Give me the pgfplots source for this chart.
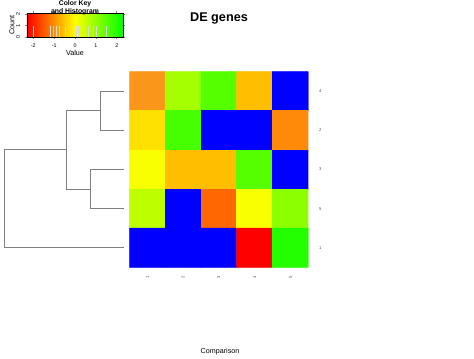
\documentclass[border=0pt]{standalone}
\usepackage{fontspec}
\setmainfont{Liberation Sans}
\usepackage{pgfplots}
\pgfplotsset{compat=1.18}
\pgfplotsset{
  colormap={hm}{
    rgb255=(0,0,255)      % 0 blue
    rgb255=(255,0,0)      % 1 red
    rgb255=(255,104,0)    % 2 orange-red
    rgb255=(255,138,10)   % 3 orange
    rgb255=(250,150,25)   % 4 orange
    rgb255=(255,190,0)    % 5 gold
    rgb255=(255,225,0)    % 6 yellow-gold
    rgb255=(250,255,0)    % 7 yellow
    rgb255=(190,255,0)    % 8 yellow-green
    rgb255=(165,255,0)    % 9 yellow-green
    rgb255=(140,255,0)    % 10 light green
    rgb255=(85,255,0)     % 11 green
    rgb255=(70,255,0)     % 12 green
    rgb255=(35,255,0)     % 13 green
  }
}
\pgfplotstableread{
x y c
1 1 4
2 1 9
3 1 11
4 1 5
5 1 0
1 2 6
2 2 12
3 2 0
4 2 0
5 2 3
1 3 7
2 3 5
3 3 5
4 3 11
5 3 0
1 4 8
2 4 0
3 4 2
4 4 7
5 4 10
1 5 0
2 5 0
3 5 0
4 5 1
5 5 13
}\heat
\begin{document}
\begin{tikzpicture}
\useasboundingbox (0,0) rectangle (284.4pt,-214.8pt);
% main pixel axis: dendrogram and labels
\begin{axis}[at={(0,0)}, anchor=north west, scale only axis,
  width=284.4pt, height=214.8pt, xmin=0, xmax=474, ymin=0, ymax=358,
  y dir=reverse, hide axis, clip=false]
\addplot[draw=gray, line width=0.5pt] coordinates {(124,91.2) (100,91.2) (100,130.3) (124,130.3)};
\addplot[draw=gray, line width=0.5pt] coordinates {(124,169.5) (90.7,169.5) (90.7,208.6) (124,208.6)};
\addplot[draw=gray, line width=0.5pt] coordinates {(100,110.75) (66.7,110.75) (66.7,189.05) (90.7,189.05)};
\addplot[draw=gray, line width=0.5pt] coordinates {(66.7,149.9) (4.3,149.9) (4.3,247.8) (124,247.8)};
\node[font=\fontsize{7.6}{9}\selectfont\bfseries] at (axis cs:219,18) {DE genes};
\node[font=\fontsize{4.3}{5}\selectfont] at (axis cs:220,352) {Comparison};
\end{axis}
% heatmap
\begin{axis}[at={(77.58pt,-43.02pt)}, anchor=north west, scale only axis,
  width=107.4pt, height=117.36pt, xmin=0.5, xmax=5.5, ymin=0.5, ymax=5.5,
  y dir=reverse, axis line style={draw=none}, tick style={draw=none},
  xtick={1,2,3,4,5}, xticklabels={1,2,3,4,5},
  ytick={1,2,3,4,5}, yticklabels={4,2,3,5,1},
  ytick pos=right, yticklabel pos=right,
  x tick label style={rotate=90, anchor=east, font=\fontsize{2.5}{3}\selectfont, text=black!70},
  y tick label style={anchor=west, font=\fontsize{2.5}{3}\selectfont, text=black!70},
  xticklabel shift=2pt, yticklabel shift=3pt,
  colormap name=hm, colormap access=direct]
\addplot[matrix plot*, mesh/cols=5, point meta=explicit] table[x=x, y=y, meta=c] {\heat};
\end{axis}
% colour key
\begin{axis}[at={(16.2pt,-7.8pt)}, anchor=north west, scale only axis,
  width=57.6pt, height=14.4pt, xmin=-2.3, xmax=2.3, ymin=0, ymax=2.11,
  axis background/.style={shade, left color=red, right color=green, middle color=yellow},
  axis line style={line width=0.3pt},
  xtick={-2,-1,0,1,2}, ytick={0,1,2},
  tick align=outside, major tick length=1.2pt, tick style={line width=0.3pt},
  /pgf/number format/assume math mode=true,
  ticklabel style={font=\fontsize{3.2}{4}\selectfont},
  yticklabel style={rotate=90, anchor=south},
  xlabel={Value}, ylabel={Count},
  xlabel style={font=\fontsize{4.3}{5}\selectfont, inner sep=0pt, yshift=2.2pt},
  ylabel style={font=\fontsize{4.3}{5}\selectfont, inner sep=0pt, yshift=-2.5pt},
  xticklabel shift=-0.5pt, yticklabel shift=-0.5pt]
\addplot[ycomb, draw=white!70!gray, line width=0.5pt, mark=none] coordinates {
(-2.0,1) (-1.2,1) (-1.05,1) (-0.9,1) (-0.75,1) (-0.45,1) (0.05,1) (0.15,1)
(0.5,1) (0.65,1) (0.9,1) (1.05,1) (1.5,1)};
\end{axis}
\node[font=\fontsize{4.1}{4.4}\selectfont\bfseries, align=center] at (45pt,-4.7pt) {Color Key\\and Histogram};
\end{tikzpicture}
\end{document}
